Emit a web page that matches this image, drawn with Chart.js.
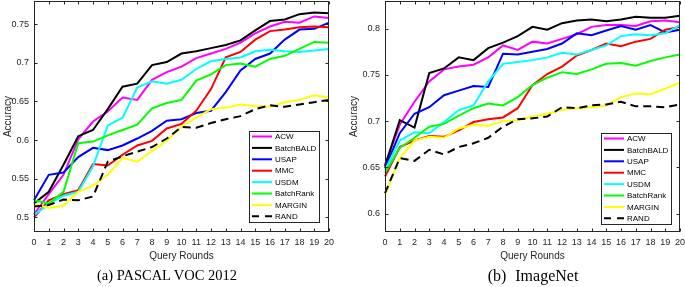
<!DOCTYPE html>
<html><head><meta charset="utf-8">
<script src="https://cdn.jsdelivr.net/npm/chart.js@4/dist/chart.umd.min.js"></script>
<style>
html,body{margin:0;padding:0;background:#fff;width:685px;height:287px;overflow:hidden;position:relative;}
canvas{position:absolute;top:0;}
#c1{left:0}
#c2{left:342px}
.cap{position:absolute;top:267px;line-height:17px;font-family:"Liberation Serif",serif;font-size:14.5px;color:#000;white-space:pre;transform:translateX(-50%);}
</style></head><body>
<canvas id="c1" width="342" height="287"></canvas>
<canvas id="c2" width="343" height="287"></canvas>
<div class="cap" style="left:167px">(a) PASCAL VOC 2012</div>
<div class="cap" style="left:533px;font-size:16px;word-spacing:5px">(b) ImageNet</div>
<script>
const rounds = [0,1,2,3,4,5,6,7,8,9,10,11,12,13,14,15,16,17,18,19,20];
const methods = ['ACW','BatchBALD','USAP','MMC','USDM','BatchRank','MARGIN','RAND'];
const colors = ['#ff00ff','#000000','#0000ff','#ff0000','#00ffff','#00ff00','#ffff00','#000000'];

// PASCAL VOC 2012
const vocACW       = [0.504,0.530,0.555,0.601,0.624,0.637,0.655,0.652,0.678,0.688,0.695,0.706,0.712,0.718,0.726,0.738,0.747,0.753,0.752,0.760,0.758];
const vocBatchBALD = [0.518,0.533,0.568,0.605,0.613,0.640,0.669,0.673,0.697,0.701,0.712,0.715,0.719,0.723,0.729,0.742,0.754,0.756,0.763,0.765,0.764];
const vocUSAP      = [0.522,0.555,0.558,0.578,0.590,0.587,0.593,0.602,0.612,0.625,0.627,0.635,0.638,0.662,0.690,0.705,0.712,0.730,0.743,0.744,0.752];
const vocMMC       = [0.500,0.522,0.530,0.535,0.569,0.567,0.581,0.593,0.599,0.615,0.621,0.638,0.666,0.707,0.714,0.730,0.741,0.743,0.746,0.747,0.746];
const vocUSDM      = [0.503,0.517,0.528,0.533,0.566,0.619,0.629,0.668,0.676,0.673,0.678,0.692,0.702,0.705,0.707,0.715,0.717,0.715,0.714,0.716,0.718];
const vocBatchRank = [0.522,0.518,0.533,0.596,0.598,0.606,0.613,0.620,0.641,0.648,0.652,0.677,0.685,0.697,0.699,0.695,0.705,0.709,0.718,0.727,0.726];
const vocMARGIN    = [0.517,0.512,0.515,0.533,0.541,0.555,0.577,0.572,0.586,0.599,0.617,0.629,0.640,0.642,0.646,0.644,0.643,0.649,0.652,0.658,0.655];
const vocRAND      = [0.514,0.516,0.523,0.522,0.527,0.572,0.579,0.585,0.591,0.602,0.617,0.616,0.622,0.627,0.631,0.640,0.645,0.643,0.646,0.649,0.652];

// ImageNet
const imgACW       = [0.653,0.696,0.721,0.743,0.756,0.759,0.761,0.769,0.782,0.777,0.786,0.784,0.789,0.794,0.802,0.804,0.804,0.803,0.808,0.809,0.807];
const imgBatchBALD = [0.651,0.701,0.693,0.752,0.757,0.769,0.766,0.779,0.785,0.792,0.802,0.799,0.806,0.809,0.810,0.808,0.810,0.813,0.812,0.812,0.814];
const imgUSAP      = [0.649,0.687,0.708,0.715,0.728,0.733,0.738,0.737,0.773,0.772,0.775,0.778,0.784,0.795,0.793,0.798,0.803,0.799,0.804,0.796,0.799];
const imgMMC       = [0.640,0.672,0.679,0.684,0.683,0.690,0.699,0.702,0.704,0.714,0.739,0.751,0.759,0.771,0.777,0.784,0.781,0.786,0.789,0.799,0.802];
const imgUSDM      = [0.647,0.679,0.688,0.687,0.699,0.712,0.717,0.743,0.762,0.764,0.766,0.769,0.774,0.772,0.777,0.782,0.792,0.794,0.793,0.795,0.804];
const imgBatchRank = [0.644,0.671,0.682,0.694,0.697,0.706,0.714,0.719,0.717,0.726,0.739,0.747,0.753,0.751,0.756,0.762,0.763,0.760,0.765,0.769,0.772];
const imgMARGIN    = [0.620,0.660,0.679,0.683,0.682,0.692,0.696,0.695,0.700,0.701,0.705,0.708,0.712,0.714,0.715,0.717,0.726,0.730,0.729,0.735,0.742];
const imgRAND      = [0.622,0.660,0.657,0.669,0.664,0.672,0.676,0.682,0.694,0.702,0.703,0.705,0.715,0.714,0.717,0.718,0.721,0.716,0.716,0.715,0.718];

const vocTicks = [0.5,0.55,0.6,0.65,0.7,0.75];
const imgTicks = [0.6,0.65,0.7,0.75,0.8];

const AX = '#262626';

const boxTicks = {
  id:'boxTicks',
  afterDatasetsDraw(chart){
    const ctx = chart.ctx, ca = chart.chartArea;
    const xs = chart.scales.x, ys = chart.scales.y;
    const L = Math.round(ca.left)+0.5, R = Math.round(ca.right)-0.5, T = Math.round(ca.top)+0.5, B = Math.round(ca.bottom)-0.5;
    ctx.save();
    ctx.strokeStyle = AX; ctx.lineWidth = 1; ctx.setLineDash([]);
    ctx.strokeRect(L, T, R-L, B-T);
    ctx.beginPath();
    xs.ticks.forEach((t,i)=>{
      const px = Math.round(xs.getPixelForTick(i))+0.5;
      ctx.moveTo(px,B); ctx.lineTo(px,B-3);
      ctx.moveTo(px,T); ctx.lineTo(px,T+3);
    });
    ys.ticks.forEach((t)=>{
      const py = Math.round(ys.getPixelForValue(t.value))+0.5;
      ctx.moveTo(L,py); ctx.lineTo(L+3,py);
      ctx.moveTo(R,py); ctx.lineTo(R-3,py);
    });
    ctx.stroke();
    ctx.restore();
  }
};

const legendBox = {
  id:'legendBox',
  afterDatasetsDraw(chart, args, opts){
    const ctx = chart.ctx, ca = chart.chartArea;
    const w = 70, h = 91;
    const x = Math.round(ca.right - opts.mr - w), y = Math.round(ca.bottom - opts.mb - h);
    ctx.save();
    ctx.fillStyle = '#fff'; ctx.fillRect(x, y, w, h);
    ctx.strokeStyle = AX; ctx.lineWidth = 1; ctx.strokeRect(x+0.5, y+0.5, w, h);
    ctx.font = '8px "Liberation Sans", Arial, sans-serif';
    ctx.textBaseline = 'middle';
    chart.data.datasets.forEach((ds,i)=>{
      const yy = y + 5.5 + 11.4*i;
      ctx.strokeStyle = ds.borderColor; ctx.lineWidth = 2;
      ctx.setLineDash(ds.borderDash ? [7,6] : []);
      ctx.beginPath(); ctx.moveTo(x+3, yy); ctx.lineTo(x+23, yy); ctx.stroke();
      ctx.setLineDash([]);
      ctx.fillStyle = '#000';
      ctx.fillText(ds.label, x+26, yy+0.5);
    });
    ctx.restore();
  }
};

function makeDatasets(series){
  return series.map((data,i)=>({
    label: methods[i],
    data: data,
    borderColor: colors[i],
    backgroundColor: colors[i],
    borderWidth: 2,
    pointRadius: 0,
    tension: 0,
    fill: false,
    order: series.length - i,
    borderDash: methods[i]==='RAND' ? [8,5] : undefined
  }));
}

function makeChart(id, series, yMin, yMax, yTicks, pad, yWidth, legendMargins){
  return new Chart(document.getElementById(id), {
    type:'line',
    data:{ labels: rounds.map(String), datasets: makeDatasets(series) },
    options:{
      responsive:false, animation:false, devicePixelRatio:1,
      layout:{ padding: pad },
      plugins:{ legend:{display:false}, tooltip:{enabled:false}, legendBox: legendMargins },
      scales:{
        x:{
          type:'category', offset:false,
          grid:{display:false, drawTicks:false},
          border:{display:false},
          ticks:{autoSkip:false, maxRotation:0, minRotation:0, padding:5, color:AX, font:{family:'"Liberation Sans", Arial, sans-serif', size:9}},
          title:{display:true, text:'Query Rounds', color:AX, padding:{top:0,bottom:0}, font:{family:'"Liberation Sans", Arial, sans-serif', size:10}},
          afterFit(s){ s.height = 30; s.paddingLeft = 0; s.paddingRight = 0; }
        },
        y:{
          type:'linear', min:yMin, max:yMax,
          grid:{display:false, drawTicks:false},
          border:{display:false},
          afterBuildTicks(s){ s.ticks = yTicks.map(v=>({value:v})); },
          ticks:{padding:5, color:AX, font:{family:'"Liberation Sans", Arial, sans-serif', size:9}, callback:(v)=>String(v)},
          title:{display:true, text:'Accuracy', color:AX, padding:{top:2,bottom:0}, font:{family:'"Liberation Sans", Arial, sans-serif', size:10}},
          afterFit(s){ s.width = yWidth; s.paddingTop = 0; s.paddingBottom = 0; }
        }
      }
    },
    plugins:[boxTicks, legendBox]
  });
}

makeChart('c1',
  [vocACW,vocBatchBALD,vocUSAP,vocMMC,vocUSDM,vocBatchRank,vocMARGIN,vocRAND],
  0.481, 0.78, vocTicks,
  {top:1, left:0, right:13, bottom:25}, 34, {mr:10, mb:10});

makeChart('c2',
  [imgACW,imgBatchBALD,imgUSAP,imgMMC,imgUSDM,imgBatchRank,imgMARGIN,imgRAND],
  0.58, 0.83, imgTicks,
  {top:1, left:4, right:5, bottom:25}, 39, {mr:9, mb:8});
</script>
</body></html>
